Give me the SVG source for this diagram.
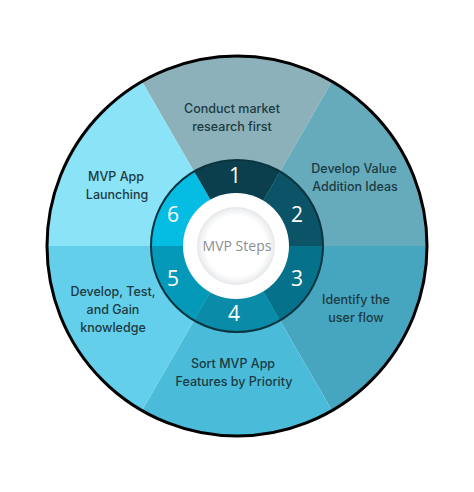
<svg xmlns="http://www.w3.org/2000/svg" width="474" height="492" viewBox="0 0 474 492">
<defs>
<style>
.lbl{font-family:"Inter","Noto Sans",sans-serif;font-size:12.5px;font-weight:500;fill:#1c3a42;text-anchor:middle}
.num{font-family:"Open Sans","Noto Sans",sans-serif;font-size:21px;fill:#ffffff;text-anchor:middle}
.ctr{font-family:"Open Sans","Noto Sans",sans-serif;font-size:14px;fill:#8a8f92;text-anchor:middle}
</style>
<radialGradient id="hub" cx="0.5" cy="0.5" r="0.5">
<stop offset="0.78" stop-color="#ffffff"/>
<stop offset="0.95" stop-color="#eceef0"/>
<stop offset="1" stop-color="#e2e5e8"/>
</radialGradient>
</defs>
<rect width="474" height="492" fill="#ffffff"/>
<g id="step1">
<path d="M237 246 L142 81.46 A190 190 0 0 1 332 81.46 Z" fill="#8cb1ba"/>
<text class="lbl" x="232" y="113">Conduct market</text>
<text class="lbl" x="232" y="131">research first</text>
</g>
<g id="step2">
<path d="M237 246 L332 81.46 A190 190 0 0 1 427 246 Z" fill="#66abbc"/>
<text class="lbl" x="354" y="173">Develop Value</text>
<text class="lbl" x="355" y="191">Addition Ideas</text>
</g>
<g id="step3">
<path d="M237 246 L427 246 A190 190 0 0 1 332 410.54 Z" fill="#46a6bf"/>
<text class="lbl" x="356" y="304">Identify the</text>
<text class="lbl" x="356" y="322">user flow</text>
</g>
<g id="step4">
<path d="M237 246 L332 410.54 A190 190 0 0 1 142 410.54 Z" fill="#4abcd9"/>
<text class="lbl" x="233" y="368">Sort MVP App</text>
<text class="lbl" x="234" y="386">Features by Priority</text>
</g>
<g id="step5">
<path d="M237 246 L142 410.54 A190 190 0 0 1 47 246 Z" fill="#63cfea"/>
<text class="lbl" x="113" y="296">Develop, Test,</text>
<text class="lbl" x="113" y="314">and Gain</text>
<text class="lbl" x="113" y="332">knowledge</text>
</g>
<g id="step6">
<path d="M237 246 L47 246 A190 190 0 0 1 142 81.46 Z" fill="#8be3f7"/>
<text class="lbl" x="116" y="181">MVP App</text>
<text class="lbl" x="117" y="199">Launching</text>
</g>
<g id="ring">
<path d="M237 246 L194 171.52 A86 86 0 0 1 280 171.52 Z" fill="#0b3f4d"/>
<path d="M237 246 L280 171.52 A86 86 0 0 1 323 246 Z" fill="#0b5468"/>
<path d="M237 246 L323 246 A86 86 0 0 1 280 320.48 Z" fill="#06718a"/>
<path d="M237 246 L280 320.48 A86 86 0 0 1 194 320.48 Z" fill="#0a8ca8"/>
<path d="M237 246 L194 320.48 A86 86 0 0 1 151 246 Z" fill="#0599b9"/>
<path d="M237 246 L151 246 A86 86 0 0 1 194 171.52 Z" fill="#05bce2"/>
<text class="num" x="235" y="183">1</text>
<text class="num" x="297" y="222">2</text>
<text class="num" x="297" y="286">3</text>
<text class="num" x="234" y="321">4</text>
<text class="num" x="173" y="286">5</text>
<text class="num" x="173" y="222">6</text>
</g>
<g id="outlines" fill="none">
<circle cx="237" cy="246" r="190" stroke="#000000" stroke-width="3"/>
<circle cx="237" cy="246" r="86" stroke="#0b3440" stroke-width="2"/>
</g>
<g id="center">
<circle cx="236" cy="246" r="53" fill="#ffffff"/>
<circle cx="236" cy="246" r="39" fill="url(#hub)"/>
<text class="ctr" x="237" y="251">MVP Steps</text>
</g>
</svg>
